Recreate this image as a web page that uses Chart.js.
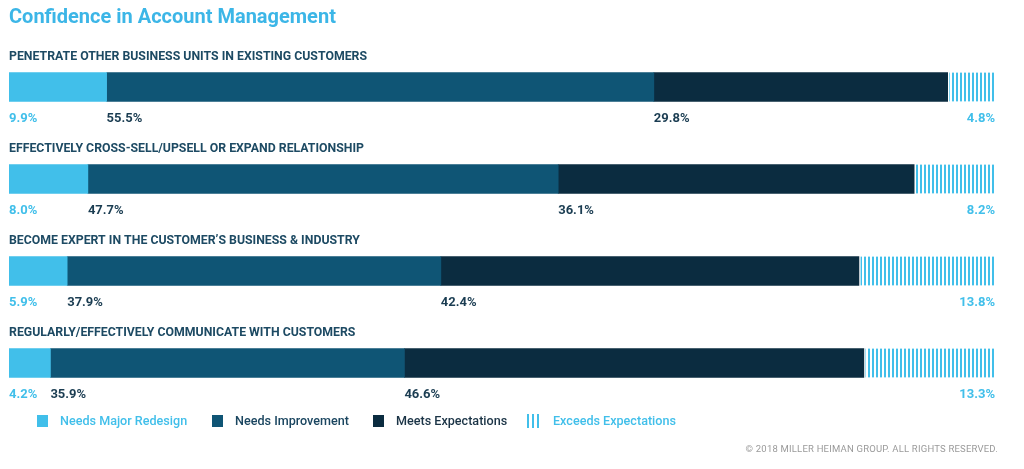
<!DOCTYPE html>
<html>
<head>
<meta charset="utf-8">
<script src="https://cdn.jsdelivr.net/npm/chart.js@4"></script>
<style>
  body { margin: 0; background: #fff; font-family: Roboto, sans-serif; }
  #wrap { position: relative; width: 1024px; height: 469px; overflow: hidden; }
  #title { position: absolute; left: 9px; top: 4px; font: bold 20px Roboto, sans-serif; color: #3cb6e7; }
  #legend { position: absolute; left: 0; top: 413px; font: 500 12.6px Roboto, sans-serif; }
  #legend .item { position: absolute; top: 0; display: flex; align-items: center; white-space: nowrap; }
  #legend .sw { width: 11px; height: 12px; margin-right: 12px; }
  #legend .stripes { width: 13px; height: 14px; margin-right: 13px;
    background: repeating-linear-gradient(90deg, #41bfea 0 2px, #fff 2px 5px); }
  #footer { position: absolute; right: 26px; top: 443px; font: 9.5px Roboto, sans-serif; color: #9a9a9a; letter-spacing: 0.2px; }
</style>
</head>
<body>
<div id="wrap">
  <canvas id="chart1" width="1024" height="469"></canvas>
  <div id="title">Confidence in Account Management</div>
  <div id="legend">
    <div class="item" style="left:37px"><div class="sw" style="background:#41bfea"></div><span style="color:#41bfea">Needs Major Redesign</span></div>
    <div class="item" style="left:212px"><div class="sw" style="background:#0f5575"></div><span style="color:#1b4660">Needs Improvement</span></div>
    <div class="item" style="left:373px"><div class="sw" style="background:#0b2c40"></div><span style="color:#1b3446">Meets Expectations</span></div>
    <div class="item" style="left:527px"><div class="stripes"></div><span style="color:#41bfea">Exceeds Expectations</span></div>
  </div>
  <div id="footer">© 2018 MILLER HEIMAN GROUP. ALL RIGHTS RESERVED.</div>
</div>
<script>
const categories = [
  "PENETRATE OTHER BUSINESS UNITS IN EXISTING CUSTOMERS",
  "EFFECTIVELY CROSS-SELL/UPSELL OR EXPAND RELATIONSHIP",
  "BECOME EXPERT IN THE CUSTOMER\u2019S BUSINESS & INDUSTRY",
  "REGULARLY/EFFECTIVELY COMMUNICATE WITH CUSTOMERS",
];
const needsMajorRedesign = [9.9, 8.0, 5.9, 4.2];
const needsImprovement = [55.5, 47.7, 37.9, 35.9];
const meetsExpectations = [29.8, 36.1, 42.4, 46.6];
const exceedsExpectations = [4.8, 8.2, 13.8, 13.3];

const lightBlue = "#41bfea";

// vertical stripe fill for "exceeds"
function stripePattern(ctx) {
  const c = document.createElement("canvas");
  c.width = 4;
  c.height = 4;
  const p = c.getContext("2d");
  p.fillStyle = lightBlue;
  p.fillRect(0, 0, 2, 4);
  return ctx.createPattern(c, "repeat");
}

const labelPlugin = {
  id: "labels",
  afterDatasetsDraw(chart) {
    const ctx = chart.ctx;
    const xs = chart.scales.x;
    const ys = chart.scales.y;
    const series = chart.data.datasets.map((d) => d.data);
    const colors = [lightBlue, "#1b3d52", "#1b3d52", lightBlue];
    ctx.save();
    categories.forEach((cat, i) => {
      const yc = ys.getPixelForValue(i);
      ctx.font = "bold 12.3px Roboto, sans-serif";
      ctx.fillStyle = "#1d4a63";
      ctx.textAlign = "left";
      ctx.textBaseline = "middle";
      ctx.fillText(cat, xs.left, yc - 30);

      ctx.font = "bold 13px Roboto, sans-serif";
      let cum = 0;
      series.forEach((vals, j) => {
        const v = vals[i];
        ctx.fillStyle = colors[j];
        if (j === series.length - 1) {
          ctx.textAlign = "right";
          ctx.fillText(v.toFixed(1) + "%", xs.getPixelForValue(100), yc + 32);
        } else {
          ctx.textAlign = "left";
          ctx.fillText(v.toFixed(1) + "%", xs.getPixelForValue(cum), yc + 32);
        }
        cum += v;
      });
    });
    ctx.restore();
  },
};

var ctx = document.getElementById("chart1").getContext("2d");
var myChart = new Chart(ctx, {
  type: "bar",
  data: {
    labels: categories,
    datasets: [
      { label: "Needs Major Redesign", data: needsMajorRedesign, backgroundColor: lightBlue },
      { label: "Needs Improvement", data: needsImprovement, backgroundColor: "#0f5575" },
      { label: "Meets Expectations", data: meetsExpectations, backgroundColor: "#0b2c40" },
      {
        label: "Exceeds Expectations",
        data: exceedsExpectations,
        backgroundColor: stripePattern(ctx),
        borderColor: "#ffffff",
        borderWidth: { left: 2, right: 0, top: 0, bottom: 0 },
        borderSkipped: false,
      },
    ],
  },
  options: {
    indexAxis: "y",
    responsive: false,
    animation: false,
    barThickness: 29,
    layout: { padding: { left: 9, right: 29, top: 41, bottom: 60 } },
    plugins: {
      legend: { display: false },
      tooltip: { enabled: false },
    },
    scales: {
      x: { stacked: true, min: 0, max: 100, display: false },
      y: { stacked: true, display: false },
    },
  },
  plugins: [labelPlugin],
});
</script>
</body>
</html>
